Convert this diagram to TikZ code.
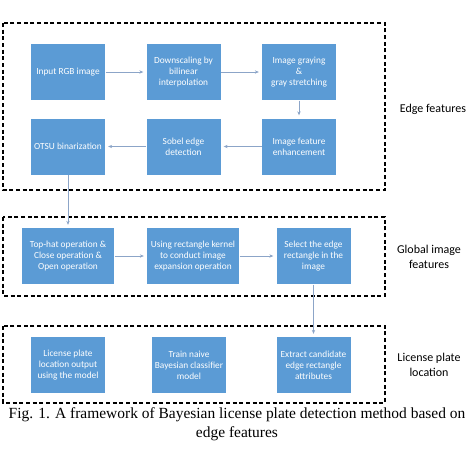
\documentclass[tikz,border=0pt]{standalone}
\usepackage{fontspec}
\setmainfont{Liberation Serif}
\newfontfamily\calibri{Carlito}
\usetikzlibrary{arrows.meta}
\definecolor{boxblue}{RGB}{91,155,213}
\definecolor{linkgray}{RGB}{140,165,200}
\tikzset{every picture/.style={line width=0.75pt}}

\begin{document}
\begin{tikzpicture}[x=0.75pt,y=0.75pt,yscale=-1,xscale=1,
  stepbox/.style={fill=boxblue,text=white,font=\calibri\fontsize{7}{8.3}\selectfont,align=center,minimum width=55.5pt,minimum height=42pt,inner sep=1pt},
  widebox/.style={stepbox,minimum width=69pt},
  frame/.style={draw=black,line width=1.1pt,dash pattern=on 3pt off 2pt},
  link/.style={draw=linkgray,line width=0.6pt,-{Stealth[length=3pt,width=2.5pt]},shorten >=2pt},
  sidelabel/.style={font=\calibri\fontsize{9}{11}\selectfont,align=center}]
\useasboundingbox (0,0) rectangle (474,455);
%Frames
\draw[frame] (3,23) rectangle (385,190);
\draw[frame] (3,217) rectangle (385,296);
\draw[frame] (3,326) rectangle (385,403);
% Edge features
\node[stepbox] (rgb) at (68,72) {Input RGB image};
\node[stepbox] (down) at (183.5,72) {Downscaling by\\bilinear\\interpolation};
\node[stepbox] (gray) at (299,72) {Image graying\\\&\\gray stretching};
\node[stepbox] (enh) at (299,146.5) {Image feature\\enhancement};
\node[stepbox] (sobel) at (183.5,146.5) {Sobel edge\\detection};
\node[stepbox] (otsu) at (68,146.5) {OTSU binarization};
% Global image features
\node[widebox] (tophat) at (68,256) {Top-hat operation \&\\Close operation \&\\Open operation};
\node[widebox] (kernel) at (193,256) {Using rectangle kernel\\to conduct image\\expansion operation};
\node[stepbox] (select) at (313.5,256) {Select the edge\\rectangle in the\\image};
% License plate location
\node[stepbox] (output) at (68,365) {License plate\\location output\\using the model};
\node[stepbox] (train) at (189,365) {Train naive\\Bayesian classifier\\model};
\node[stepbox] (extract) at (313.5,365) {Extract candidate\\edge rectangle\\attributes};
% Links
\draw[link] (rgb) -- (down);
\draw[link] (down) -- (gray);
\draw[link] (gray) -- (enh);
\draw[link] (enh) -- (sobel);
\draw[link] (sobel) -- (otsu);
\draw[link] (otsu) -- (tophat);
\draw[link] (tophat) -- (kernel);
\draw[link] (kernel) -- (select);
\draw[link] (select) -- (extract);
% Side labels
\node[sidelabel] (edgelab) at (433,109) {Edge features};
\node[sidelabel] (globlab) at (429,257) {Global image\\features};
\node[sidelabel] (loclab) at (429,365) {License plate\\location};
% Caption
\node[font=\fontsize{11.6}{14}\selectfont,align=center] (caption) at (237,424.5) {Fig. 1. A framework of Bayesian license plate detection method based on\\edge features};
\end{tikzpicture}
\end{document}
